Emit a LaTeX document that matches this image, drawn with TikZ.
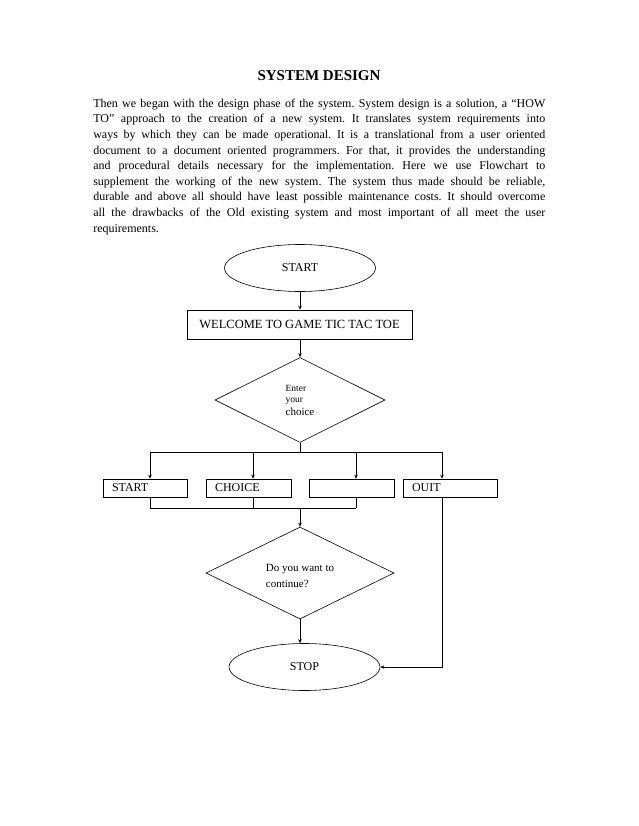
\documentclass[tikz,border=0pt]{standalone}
\usepackage{fontspec}
\setmainfont{Liberation Serif}
\usetikzlibrary{positioning, arrows.meta, shapes.geometric, calc}

\begin{document}
\begin{tikzpicture}[
        x=1pt, y=-1pt,
        >={Stealth[length=4pt, width=3.5pt]},
        line width=0.6pt,
        terminal/.style={draw, ellipse, minimum width=151pt, minimum height=47pt, inner sep=0pt, font=\fontsize{12}{14}\selectfont},
        process/.style={draw, rectangle, minimum width=225pt, minimum height=29pt, inner sep=0pt, font=\fontsize{12.5}{14}\selectfont},
        decision/.style={draw, diamond, aspect=2, inner sep=0pt, align=left, font=\fontsize{11}{16}\selectfont},
        option/.style={draw, rectangle, minimum height=18pt, inner xsep=9pt, inner ysep=0pt, align=left, font=\fontsize{12}{14}\selectfont},
    ]
    \useasboundingbox (0,0) rectangle (638,826);

    % Draw the heading and the text
    \node[font=\bfseries\fontsize{15}{18}\selectfont] (title) at (319,75.5) {SYSTEM DESIGN};
    \node[anchor=north west, inner sep=0pt, text width=452pt, align=justify, font=\fontsize{12}{15.6}\selectfont\frenchspacing] (intro) at (93,98.5) {Then we began with the design phase of the system. System design is a solution, a “HOW\linebreak
TO” approach to the creation of a new system. It translates system requirements into\linebreak
ways by which they can be made operational. It is a translational from a user oriented\linebreak
document to a document oriented programmers. For that, it provides the understanding\linebreak
and procedural details necessary for the implementation. Here we use Flowchart to\linebreak
supplement the working of the new system. The system thus made should be reliable,\linebreak
durable and above all should have least possible maintenance costs. It should overcome\linebreak
all the drawbacks of the Old existing system and most important of all meet the user\linebreak
requirements.};

    % Draw the start, the welcome box and the first decision
    \node[terminal] (start) at (300,268) {START};
    \node[process] (welcome) at (299.5,324.5) {WELCOME TO GAME TIC TAC TOE};
    \node[decision, minimum width=170pt, minimum height=85pt] (choice) at (300,400)
        {{\fontsize{9.5}{11}\selectfont Enter}\\[-5pt]{\fontsize{9.5}{11}\selectfont your}\\[-3pt]choice};

    % Draw the option boxes
    \foreach \name / \x / \w / \txt in {1/145/66/START, 2/248.5/67/CHOICE, 3/351.5/67/{}, 4/450/76/OUIT}
        \node[option, text width=\w pt] (opt-\name) at (\x,488) {\txt};

    % Draw the second decision and the stop
    \node[decision, minimum width=188pt, minimum height=92pt] (again) at (300,573) {\mbox{}\\[-2pt]Do you want to\\continue?};
    \node[terminal] (stop) at (304.5,667) {STOP};

    % Connect the top of the chart
    \draw[->] (start.south) -- (start.south |- welcome.north);
    \draw[->] (welcome.south -| choice.north) -- (choice.north);

    % Split the choice into the options
    \coordinate (split) at (300,452);
    \foreach \name / \x in {1/150, 2/253, 3/356, 4/442}
        \coordinate (fork-\name) at (\x,452);
    \draw (choice.south) -- (split);
    \draw (fork-1) -- (fork-4);
    \foreach \name in {1,...,4}
        \draw[->] (fork-\name) -- (fork-\name |- opt-1.north);

    % Join the first three options again
    \foreach \name / \x in {1/150, 2/253, 3/356}
        \coordinate (join-\name) at (\x,508);
    \foreach \name in {1,...,3}
        \draw (join-\name |- opt-1.south) -- (join-\name);
    \draw (join-1) -- (join-3);
    \draw[->] (join-1 -| again.north) -- (again.north);

    % Lead to the stop
    \draw[->] (again.south) -- (again.south |- stop.north);
    \draw[->] (fork-4 |- opt-4.south) |- (stop.east);
\end{tikzpicture}
\end{document}
